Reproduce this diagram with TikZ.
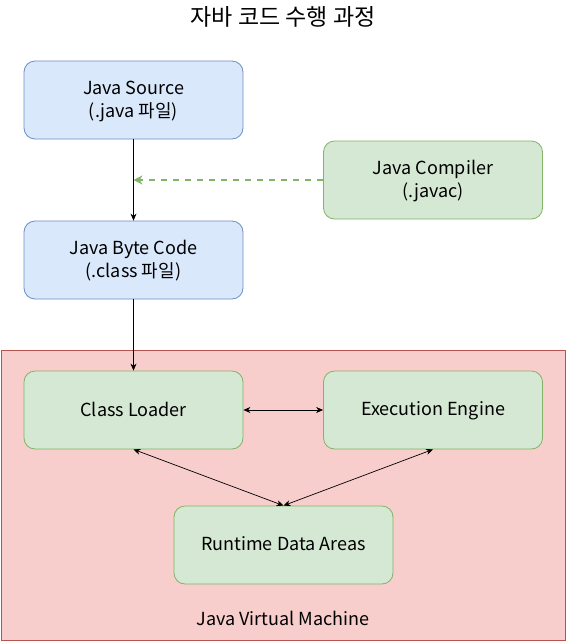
\documentclass[tikz,border=0pt]{standalone}
\usepackage{fontspec}
\setmainfont{Noto Sans CJK KR}
\usetikzlibrary{arrows.meta}
\definecolor{bluefill}{HTML}{DAE8FC}
\definecolor{bluedraw}{HTML}{6C8EBF}
\definecolor{greenfill}{HTML}{D5E8D4}
\definecolor{greendraw}{HTML}{82B366}
\definecolor{redfill}{HTML}{F8CECC}
\definecolor{reddraw}{HTML}{B85450}
\begin{document}
\begin{tikzpicture}[x=1pt,y=-1pt,
  box/.style={rounded corners=11pt, line width=0.8pt, minimum width=219pt, minimum height=78pt, align=center, font=\fontsize{18}{23}\selectfont, inner sep=0pt, text depth=2pt},
  bluebox/.style={box, fill=bluefill, draw=bluedraw},
  greenbox/.style={box, fill=greenfill, draw=greendraw},
  arr/.style={-{Stealth[length=7pt,width=6pt]}, line width=0.7pt},
  darr/.style={{Stealth[length=7pt,width=6pt]}-{Stealth[length=7pt,width=6pt]}, line width=0.7pt}
]
\useasboundingbox (0,0) rectangle (566,641);
\node[draw=reddraw, fill=redfill, line width=0.8pt, minimum width=564pt, minimum height=290pt, inner sep=0pt, anchor=north west] (jvm) at (1,350) {};
\node[font=\fontsize{23}{27}\selectfont] (title) at (283,17) {자바 코드 수행 과정};
\node[bluebox] (src) at (133.5,100) {Java Source\\(.java 파일)};
\node[greenbox] (comp) at (433,180) {Java Compiler\\(.javac)};
\node[bluebox] (bc) at (133.5,260) {Java Byte Code\\(.class 파일)};
\node[greenbox] (cl) at (133.5,410) {Class Loader};
\node[greenbox] (ee) at (433,410) {Execution Engine};
\node[greenbox] (rda) at (283.5,545) {Runtime Data Areas};
\node[font=\fontsize{18}{23}\selectfont] (jvmlabel) at (283,618) {Java Virtual Machine};
\coordinate (hit) at (src.south |- comp.west);
\draw[arr] (src.south) -- (bc.north);
\draw[arr, draw=greendraw, dash pattern=on 6pt off 6pt, line width=1.3pt, -{Stealth[length=9pt,width=9pt]}, greendraw] (comp.west) -- (hit);
\draw[arr] (bc.south) -- (cl.north);
\draw[darr] (cl.east) -- (ee.west);
\draw[darr] (cl.south) -- (rda.north);
\draw[darr] (ee.south) -- (rda.north);
\end{tikzpicture}
\end{document}
